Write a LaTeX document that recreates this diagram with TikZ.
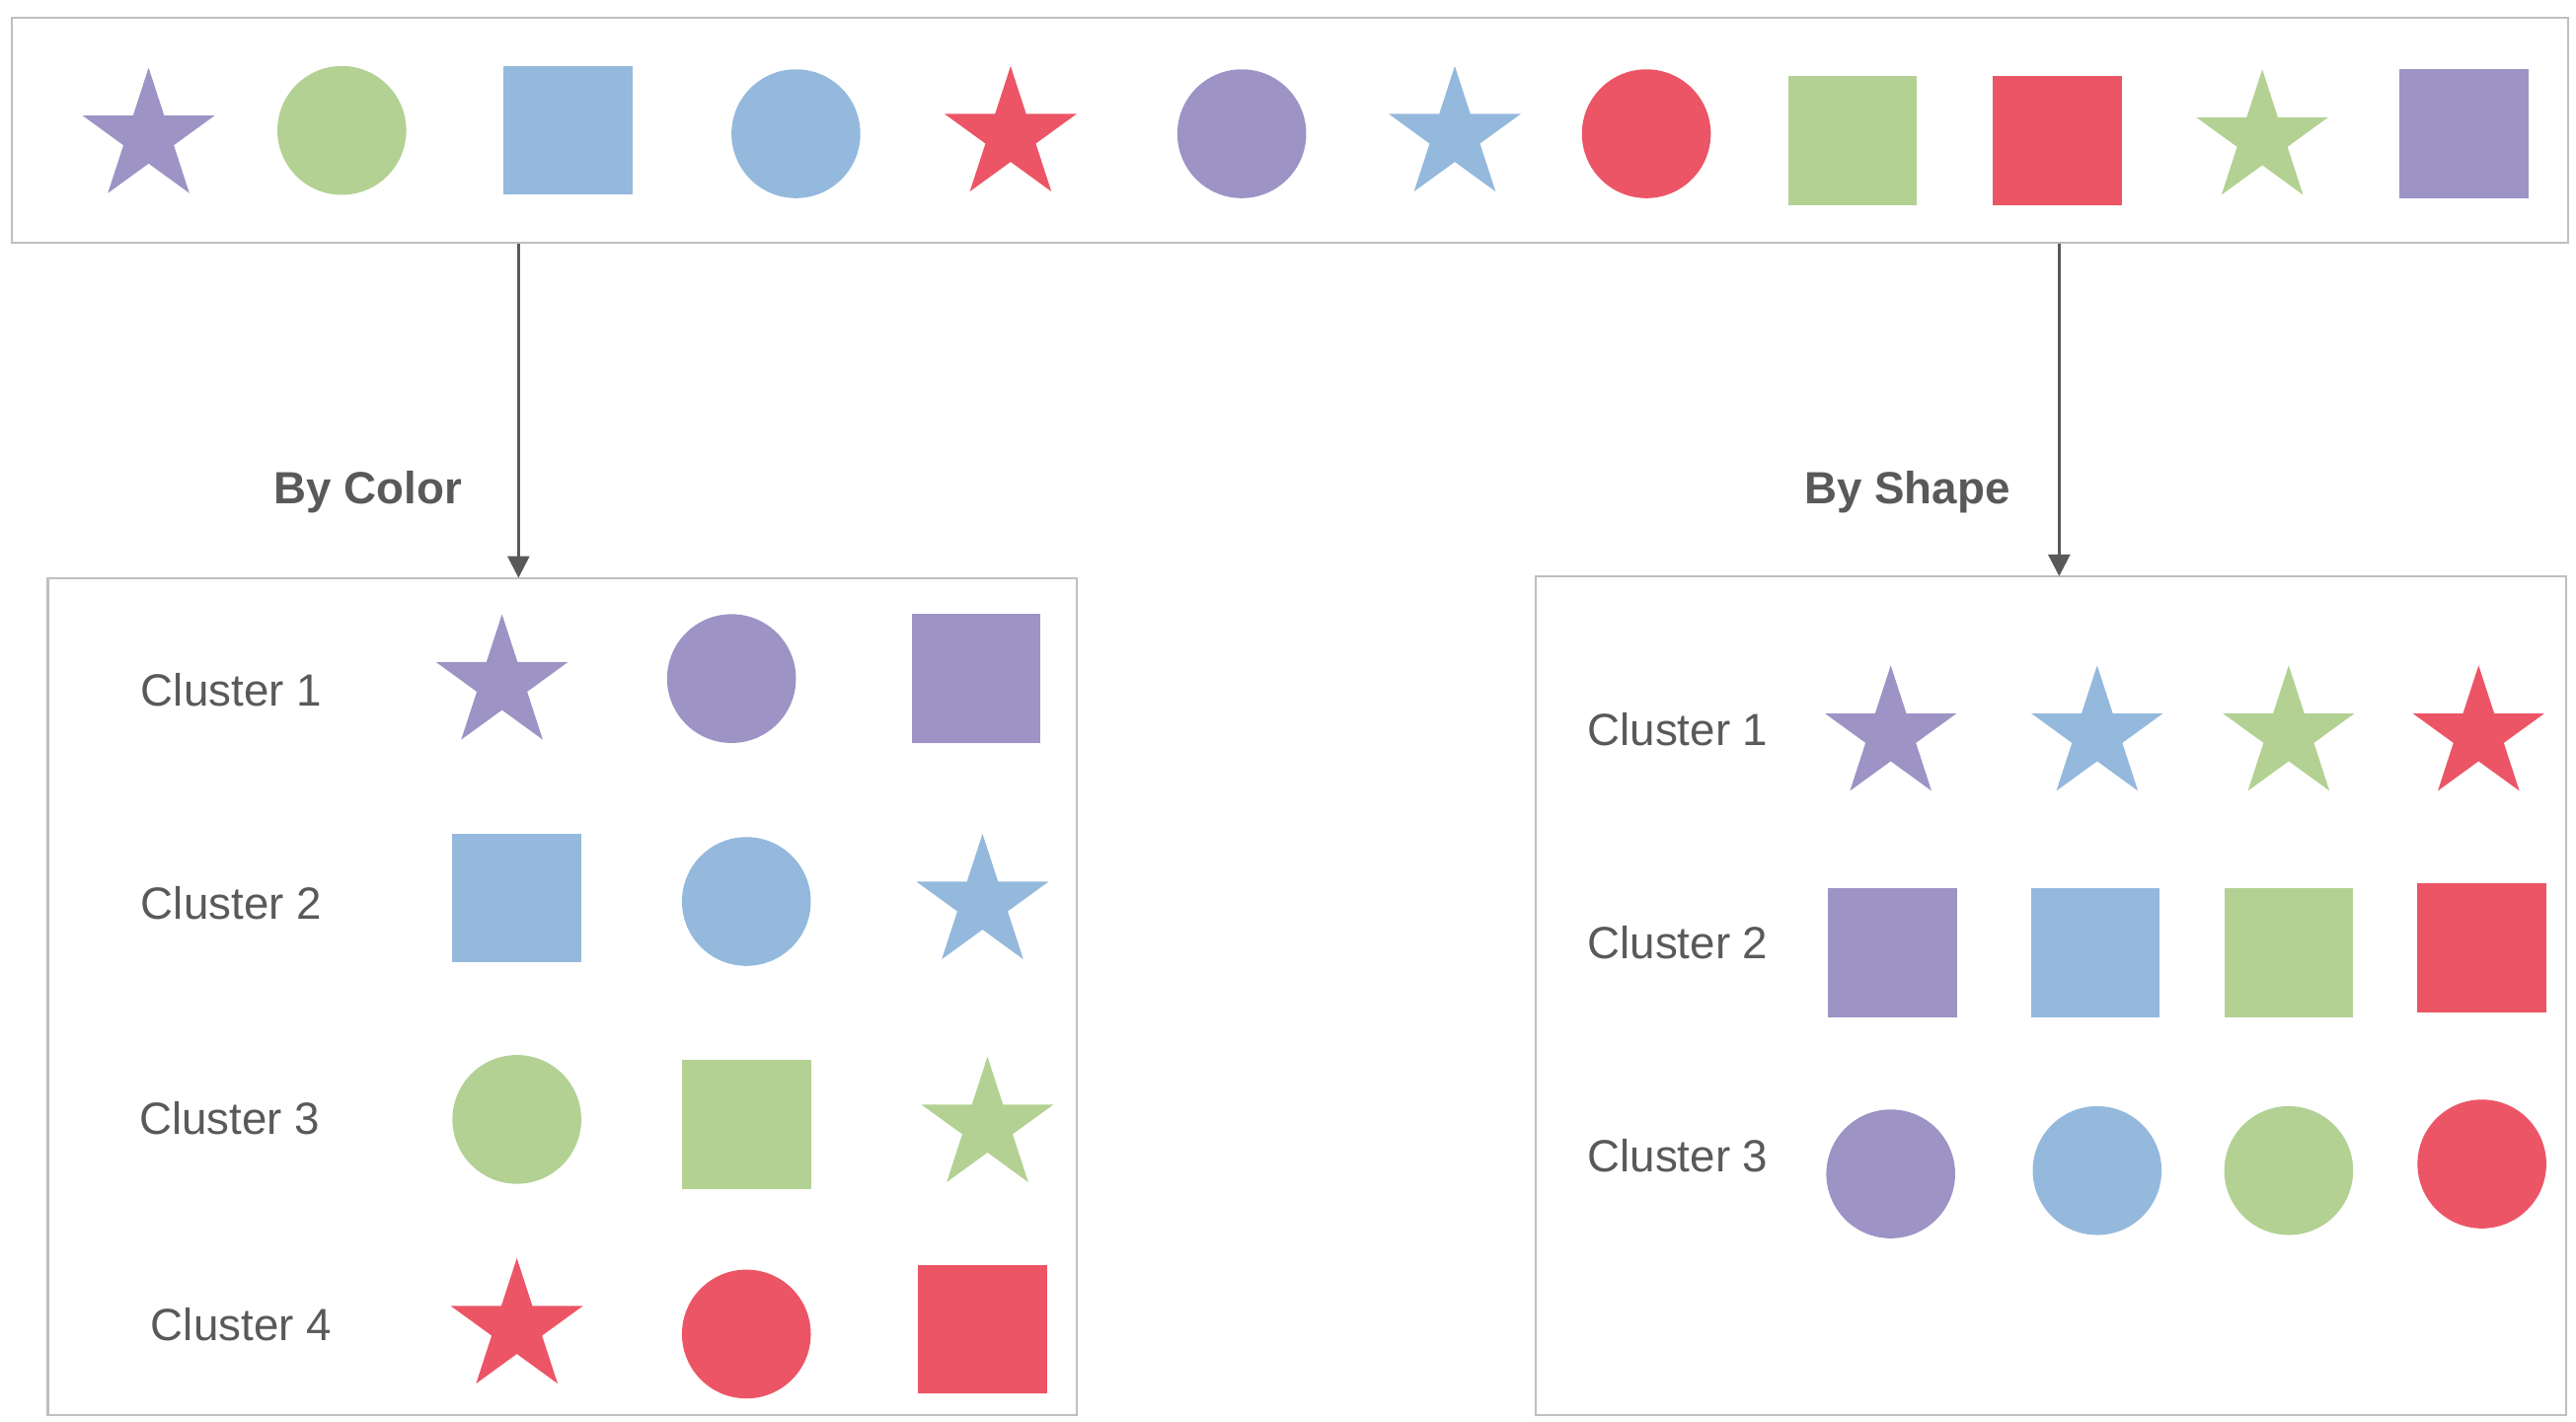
\documentclass[tikz,border=0pt]{standalone}
\usepackage{fontspec}
\setmainfont{Liberation Sans}
\usepackage{tikz}
\usetikzlibrary{arrows.meta,positioning,fit,shapes.geometric}

\definecolor{lilac}{HTML}{9D93C5}
\definecolor{leaf}{HTML}{B3D193}
\definecolor{sky}{HTML}{94B9DC}
\definecolor{coral}{HTML}{EC5565}
\definecolor{rimgray}{HTML}{BFBFBF}
\definecolor{ink}{HTML}{595959}

\tikzset{
  star5/.style={star, star points=5, star point ratio=2.618, fill=#1, draw=none, inner sep=0pt, minimum size=1.405cm},
  disc/.style={circle, fill=#1, draw=none, inner sep=0pt, minimum size=1.305cm},
  block/.style={rectangle, fill=#1, draw=none, inner sep=0pt, minimum size=1.305cm},
  boxline/.style={draw=rimgray, line width=0.6pt, inner sep=0pt},
  clabel/.style={anchor=west, inner sep=0pt, text=ink, font=\fontsize{13}{15}\selectfont},
  blabel/.style={anchor=base, inner sep=0pt, text=ink, font=\bfseries\fontsize{13}{15}\selectfont},
  flow/.style={draw=ink, line width=0.7pt, -{Triangle[width=0.22cm,length=0.22cm]}}
}

\begin{document}
\begin{tikzpicture}[x=0.0167308cm, y=-0.0167308cm]

\useasboundingbox (0,0) rectangle (1560,860.7);

% the mixed row
\node(row)[boxline, fit={(7,11) (1555,147)}]{};

\node(t1)[star5=lilac] at (90,83){};

\node(t2)[disc=leaf] at (207,79){};

\node(t3)[block=sky] at (344,79){};

\node(t4)[disc=sky] at (482,81){};

\node(t5)[star5=coral] at (612,82){};

\node(t6)[disc=lilac] at (752,81){};

\node(t7)[star5=sky] at (881,82){};

\node(t8)[disc=coral] at (997,81){};

\node(t9)[block=leaf] at (1122,85){};

\node(t10)[block=coral] at (1246,85){};

\node(t11)[star5=leaf] at (1370,84){};

\node(t12)[block=lilac] at (1492,81){};

% grouped by color
\node(colbox)[boxline, fit={(29,350) (652,857)}]{};

\coordinate(inC) at (314,350);

\node(byc)[blabel] at (223,305){By Color};

\node(c1)[clabel] at (85,418){Cluster 1};

\node(c2)[clabel] at (85,547){Cluster 2};

\node(c3)[clabel] at (84,677){Cluster 3};

\node(c4)[clabel] at (91,802){Cluster 4};

\node(c1a)[star5=lilac] at (304,414){};

\node(c1b)[disc=lilac] at (443,411){};

\node(c1c)[block=lilac] at (591,411){};

\node(c2a)[block=sky] at (313,544){};

\node(c2b)[disc=sky] at (452,546){};

\node(c2c)[star5=sky] at (595,547){};

\node(c3a)[disc=leaf] at (313,678){};

\node(c3b)[block=leaf] at (452,681){};

\node(c3c)[star5=leaf] at (598,682){};

\node(c4a)[star5=coral] at (313,804){};

\node(c4b)[disc=coral] at (452,808){};

\node(c4c)[block=coral] at (595,805){};

% grouped by shape
\node(shpbox)[boxline, fit={(930,349) (1554,857)}]{};

\coordinate(inS) at (1247,349);

\node(bys)[blabel] at (1155,305){By Shape};

\node(s1)[clabel] at (961,442){Cluster 1};

\node(s2)[clabel] at (961,571){Cluster 2};

\node(s3)[clabel] at (961,700){Cluster 3};

\node(s1a)[star5=lilac] at (1145,445){};

\node(s1b)[star5=sky] at (1270,445){};

\node(s1c)[star5=leaf] at (1386,445){};

\node(s1d)[star5=coral] at (1501,445){};

\node(s2a)[block=lilac] at (1146,577){};

\node(s2b)[block=sky] at (1269,577){};

\node(s2c)[block=leaf] at (1386,577){};

\node(s2d)[block=coral] at (1503,574){};

\node(s3a)[disc=lilac] at (1145,711){};

\node(s3b)[disc=sky] at (1270,709){};

\node(s3c)[disc=leaf] at (1386,709){};

\node(s3d)[disc=coral] at (1503,705){};

% arrows
\draw[flow] (row.south -| inC) -- (inC);

\draw[flow] (row.south -| inS) -- (inS);

\end{tikzpicture}
\end{document}
